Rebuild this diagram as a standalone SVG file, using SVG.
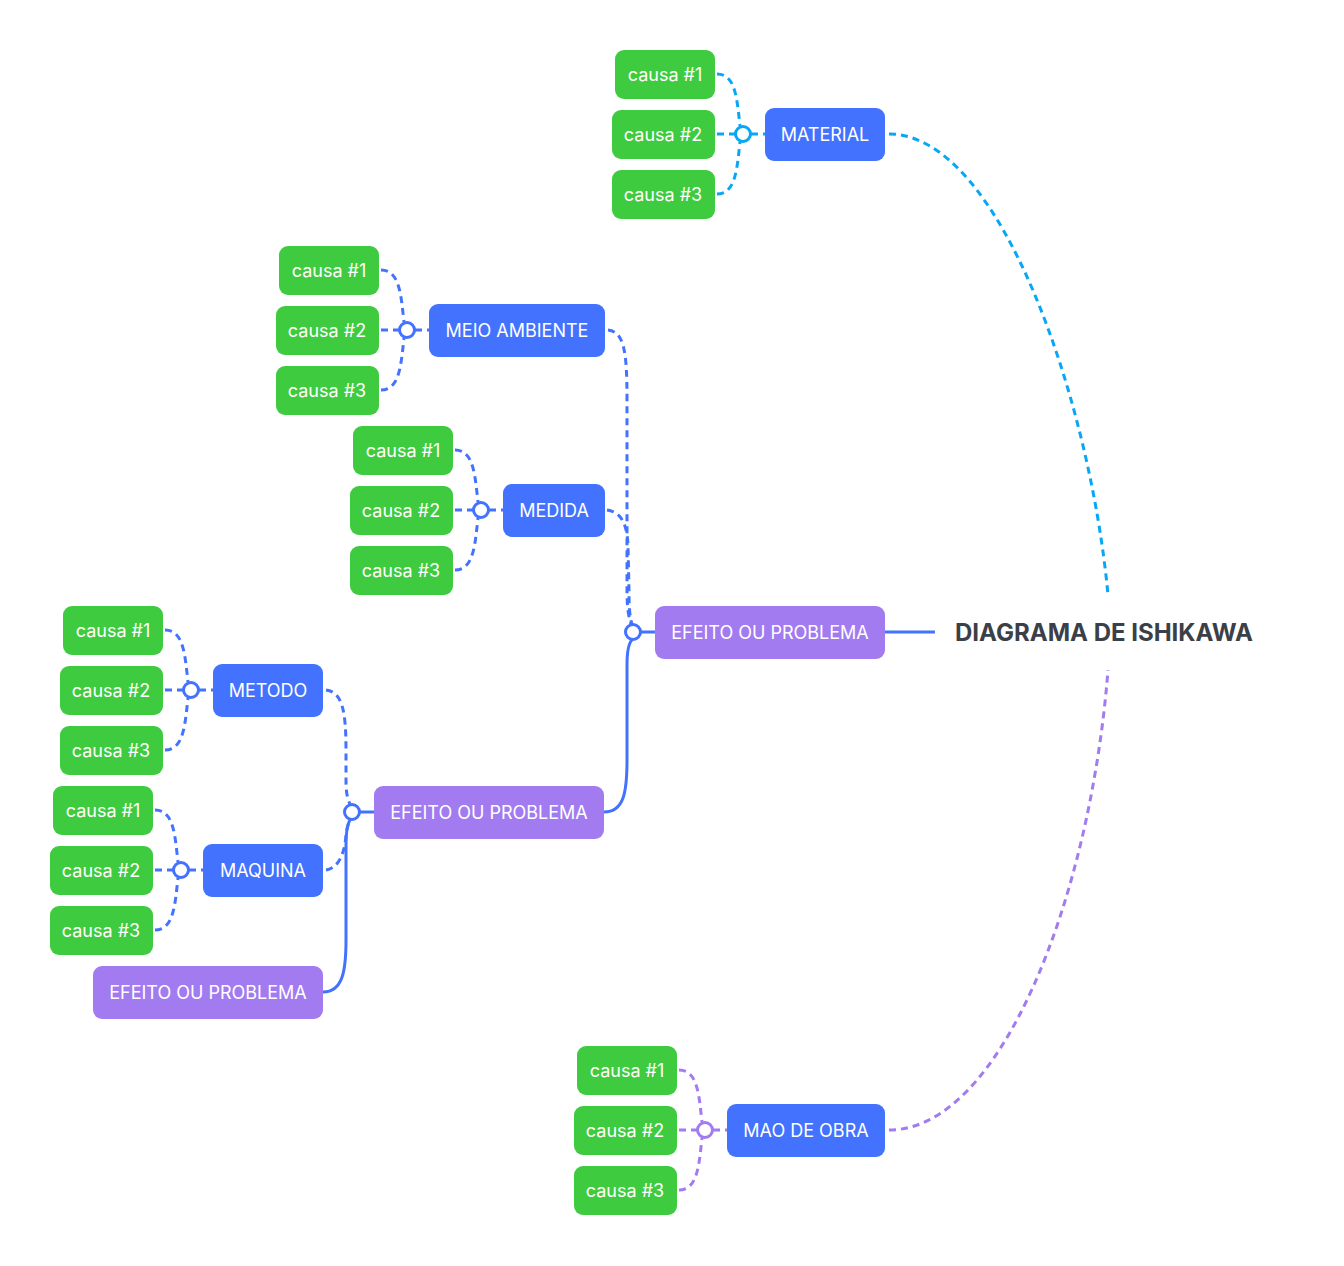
<svg xmlns="http://www.w3.org/2000/svg" width="1344" height="1266" viewBox="0 0 1344 1266">
<style>
.c rect{fill:#3ecb3f}.b rect{fill:#4272fe}.p rect{fill:#a27bf0}
text{font-family:Inter,"Noto Sans",sans-serif;font-size:18px;fill:#fff;text-anchor:middle;dominant-baseline:central}
.t{font-size:24px;font-weight:700;fill:#3b4048;text-anchor:start}
.l{fill:none;stroke-width:3}
.d{stroke-dasharray:7 5}
.bl{stroke:#4272fe}.lb{stroke:#08a6f6}.pu{stroke:#a27bf0}
circle{fill:#fff;stroke-width:3}
</style>
<g id="connectors">
<!-- MATERIAL -->
<path class="l d lb" d="M717,74 C736,74 737,100 740,126 M717,194 C736,194 737,168 740,142 M717,134 H735 M751,134 H765"/>
<path class="l d lb" d="M889,134 C1000,134 1090,400 1108,595"/>
<circle class="lb" cx="743" cy="134" r="7.5"/>
<!-- MAO DE OBRA -->
<path class="l d pu" d="M679,1070 C698,1070 699,1096 702,1122 M679,1190 C698,1190 699,1164 702,1138 M679,1130 H697 M713,1130 H727"/>
<path class="l d pu" d="M889,1130 C1000,1130 1090,900 1108,670"/>
<circle class="pu" cx="705" cy="1130" r="7.5"/>
<!-- MEIO AMBIENTE -->
<path class="l d bl" d="M381,270 C400,270 401,296 404,322 M381,390 C400,390 401,364 404,338 M381,330 H399 M415,330 H429"/>
<circle class="bl" cx="407" cy="330" r="7.5"/>
<!-- MEDIDA -->
<path class="l d bl" d="M455,450 C474,450 475,476 478,502 M455,570 C474,570 475,544 478,518 M455,510 H473 M489,510 H503"/>
<circle class="bl" cx="481" cy="510" r="7.5"/>
<!-- METODO -->
<path class="l d bl" d="M165,630 C184,630 185,656 188,682 M165,750 C184,750 185,724 188,698 M165,690 H183 M199,690 H213"/>
<circle class="bl" cx="191" cy="690" r="7.5"/>
<!-- MAQUINA -->
<path class="l d bl" d="M155,810 C174,810 175,836 178,862 M155,930 C174,930 175,904 178,878 M155,870 H173 M189,870 H203"/>
<circle class="bl" cx="181" cy="870" r="7.5"/>
<!-- to EFEITO 1 -->
<path class="l d bl" d="M608,330 C624,332 627,350 627,400 L627,590 C627,610 629,618 631,624"/>
<path class="l d bl" d="M607,510 C620,512 627,522 628,545 L629,590 C629,610 630,618 632,624"/>
<path class="l bl" d="M604,812 C624,812 627,792 627,760 L627,665 C627,650 629,643 632,640"/>
<path class="l bl" d="M641,632 H655 M885,632 H935"/>
<circle class="bl" cx="633" cy="632" r="7.5"/>
<!-- to EFEITO 2 -->
<path class="l d bl" d="M326,690 C342,692 346,710 346,750 L346,780 C346,795 348,800 350,804"/>
<path class="l d bl" d="M326,870 C340,868 345,850 346,835 C347,828 348,824 350,820"/>
<path class="l bl" d="M323,992 C343,992 346,970 346,940 L346,845 C346,830 348,823 350,820"/>
<path class="l bl" d="M360,812 H374"/>
<circle class="bl" cx="352" cy="812" r="7.5"/>
</g>
<g id="title"><text class="t" x="955" y="632">DIAGRAMA DE ISHIKAWA</text></g>
<g id="material" class="b"><rect x="765" y="108" width="120" height="53" rx="9"/><text x="825" y="134">MATERIAL</text></g>
<g id="mat1" class="c"><rect x="615" y="50" width="100" height="49" rx="9"/><text x="665" y="74">causa #1</text></g>
<g id="mat2" class="c"><rect x="612" y="110" width="103" height="49" rx="9"/><text x="663" y="134">causa #2</text></g>
<g id="mat3" class="c"><rect x="612" y="170" width="103" height="49" rx="9"/><text x="663" y="194">causa #3</text></g>
<g id="meio" class="b"><rect x="429" y="304" width="176" height="53" rx="9"/><text x="517" y="330">MEIO AMBIENTE</text></g>
<g id="meio1" class="c"><rect x="279" y="246" width="100" height="49" rx="9"/><text x="329" y="270">causa #1</text></g>
<g id="meio2" class="c"><rect x="276" y="306" width="103" height="49" rx="9"/><text x="327" y="330">causa #2</text></g>
<g id="meio3" class="c"><rect x="276" y="366" width="103" height="49" rx="9"/><text x="327" y="390">causa #3</text></g>
<g id="medida" class="b"><rect x="503" y="484" width="102" height="53" rx="9"/><text x="554" y="510">MEDIDA</text></g>
<g id="med1" class="c"><rect x="353" y="426" width="100" height="49" rx="9"/><text x="403" y="450">causa #1</text></g>
<g id="med2" class="c"><rect x="350" y="486" width="103" height="49" rx="9"/><text x="401" y="510">causa #2</text></g>
<g id="med3" class="c"><rect x="350" y="546" width="103" height="49" rx="9"/><text x="401" y="570">causa #3</text></g>
<g id="efeito1" class="p"><rect x="655" y="606" width="230" height="53" rx="9"/><text x="770" y="632">EFEITO OU PROBLEMA</text></g>
<g id="metodo" class="b"><rect x="213" y="664" width="110" height="53" rx="9"/><text x="268" y="690">METODO</text></g>
<g id="met1" class="c"><rect x="63" y="606" width="100" height="49" rx="9"/><text x="113" y="630">causa #1</text></g>
<g id="met2" class="c"><rect x="60" y="666" width="103" height="49" rx="9"/><text x="111" y="690">causa #2</text></g>
<g id="met3" class="c"><rect x="60" y="726" width="103" height="49" rx="9"/><text x="111" y="750">causa #3</text></g>
<g id="maquina" class="b"><rect x="203" y="844" width="120" height="53" rx="9"/><text x="263" y="870">MAQUINA</text></g>
<g id="maq1" class="c"><rect x="53" y="786" width="100" height="49" rx="9"/><text x="103" y="810">causa #1</text></g>
<g id="maq2" class="c"><rect x="50" y="846" width="103" height="49" rx="9"/><text x="101" y="870">causa #2</text></g>
<g id="maq3" class="c"><rect x="50" y="906" width="103" height="49" rx="9"/><text x="101" y="930">causa #3</text></g>
<g id="efeito2" class="p"><rect x="374" y="786" width="230" height="53" rx="9"/><text x="489" y="812">EFEITO OU PROBLEMA</text></g>
<g id="efeito3" class="p"><rect x="93" y="966" width="230" height="53" rx="9"/><text x="208" y="992">EFEITO OU PROBLEMA</text></g>
<g id="mao" class="b"><rect x="727" y="1104" width="158" height="53" rx="9"/><text x="806" y="1130">MAO DE OBRA</text></g>
<g id="mao1" class="c"><rect x="577" y="1046" width="100" height="49" rx="9"/><text x="627" y="1070">causa #1</text></g>
<g id="mao2" class="c"><rect x="574" y="1106" width="103" height="49" rx="9"/><text x="625" y="1130">causa #2</text></g>
<g id="mao3" class="c"><rect x="574" y="1166" width="103" height="49" rx="9"/><text x="625" y="1190">causa #3</text></g>
</svg>
